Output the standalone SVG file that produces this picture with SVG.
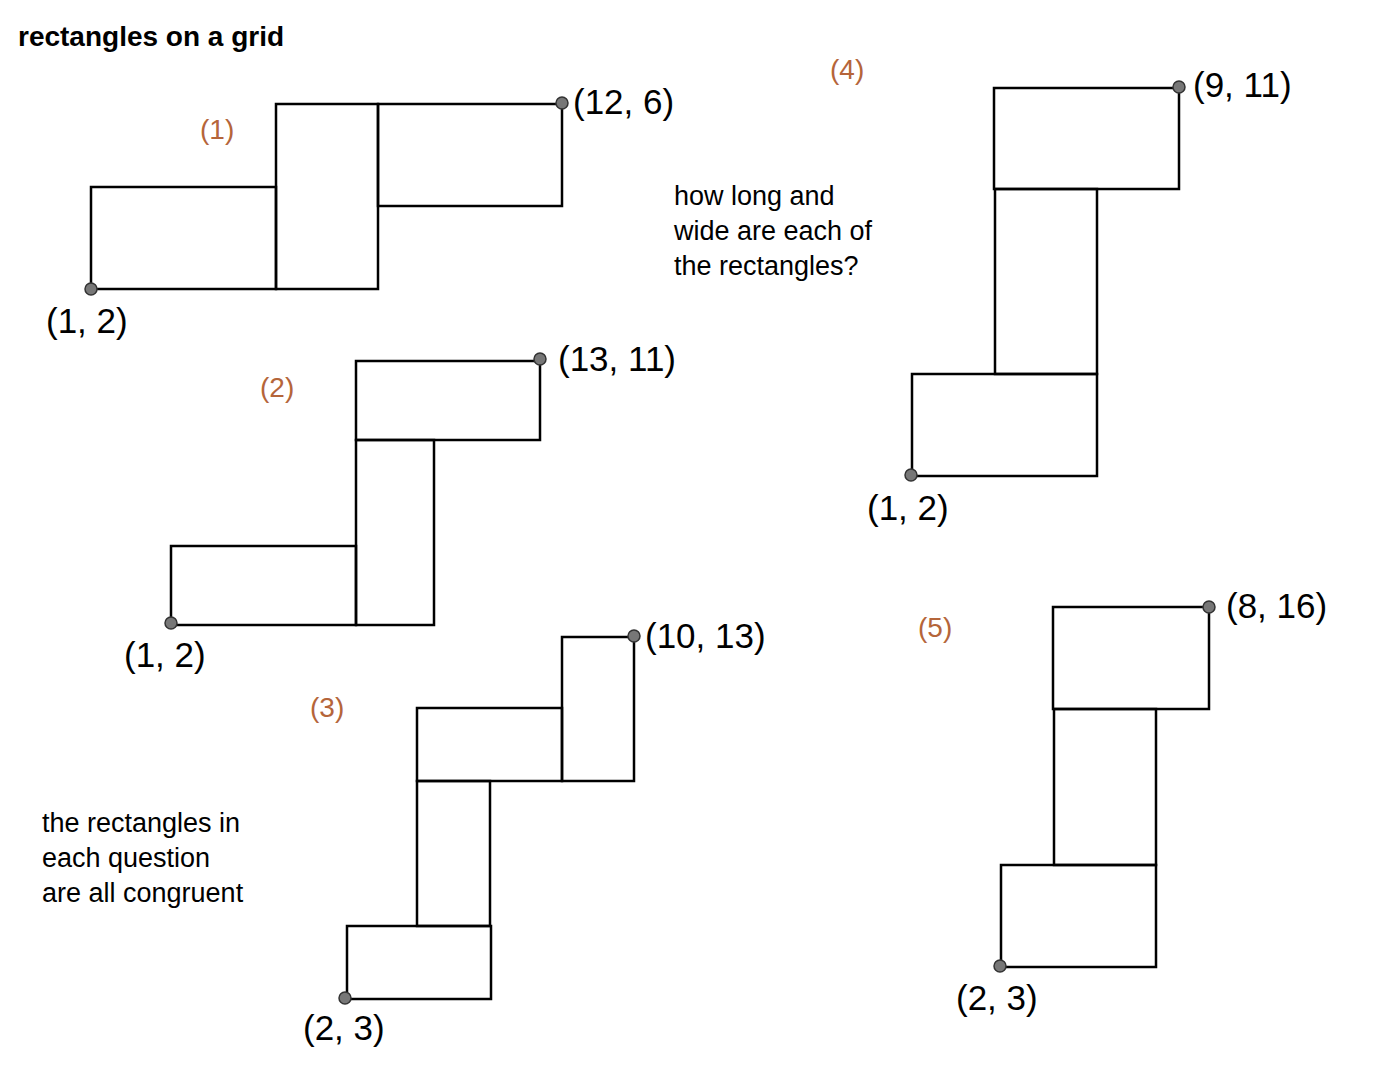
<svg xmlns="http://www.w3.org/2000/svg" width="1385" height="1067" viewBox="0 0 1385 1067">
<style>
.r{fill:none;stroke:#000;stroke-width:2.5}
.d{fill:#777;stroke:#333;stroke-width:1.5}
.c{font-family:"Liberation Sans",Arial,sans-serif;font-size:35px;fill:#000}
.n{font-family:"Liberation Sans",Arial,sans-serif;font-size:28px;fill:#b5653a}
.t{font-family:"Liberation Sans",Arial,sans-serif;font-size:27px;fill:#000}
</style>
<rect width="1385" height="1067" fill="#fff"/>
<text x="18" y="46" style="font-family:'Liberation Sans',Arial,sans-serif;font-size:28px;font-weight:bold">rectangles  on a grid</text>
<g id="fig1">
<rect class="r" x="91" y="187" width="185" height="102"/>
<rect class="r" x="276" y="104" width="102" height="185"/>
<rect class="r" x="378" y="104" width="184" height="102"/>
<circle class="d" cx="91" cy="289" r="6"/><circle class="d" cx="562" cy="103" r="6"/>
<text class="c" x="46" y="333">(1, 2)</text><text class="c" x="573" y="114">(12, 6)</text>
<text class="n" x="200" y="139">(1)</text>
</g>
<g id="fig2">
<rect class="r" x="356" y="361" width="184" height="79"/>
<rect class="r" x="356" y="440" width="78" height="185"/>
<rect class="r" x="171" y="546" width="185" height="79"/>
<circle class="d" cx="171" cy="623" r="6"/><circle class="d" cx="540" cy="359" r="6"/>
<text class="c" x="124" y="667">(1, 2)</text><text class="c" x="558" y="371">(13, 11)</text>
<text class="n" x="260" y="397">(2)</text>
</g>
<g id="fig3">
<rect class="r" x="562" y="637" width="72" height="144"/>
<rect class="r" x="417" y="708" width="145" height="73"/>
<rect class="r" x="417" y="781" width="73" height="145"/>
<rect class="r" x="347" y="926" width="144" height="73"/>
<circle class="d" cx="345" cy="998" r="6"/><circle class="d" cx="634" cy="636" r="6"/>
<text class="c" x="303" y="1040">(2, 3)</text><text class="c" x="645" y="648">(10, 13)</text>
<text class="n" x="310" y="717">(3)</text>
</g>
<g id="fig4">
<rect class="r" x="994" y="88" width="185" height="101"/>
<rect class="r" x="995" y="189" width="102" height="185"/>
<rect class="r" x="912" y="374" width="185" height="102"/>
<circle class="d" cx="911" cy="475" r="6"/><circle class="d" cx="1179" cy="87" r="6"/>
<text class="c" x="867" y="520">(1, 2)</text><text class="c" x="1193" y="97">(9, 11)</text>
<text class="n" x="830" y="79">(4)</text>
</g>
<g id="fig5">
<rect class="r" x="1053" y="607" width="156" height="102"/>
<rect class="r" x="1054" y="709" width="102" height="156"/>
<rect class="r" x="1001" y="865" width="155" height="102"/>
<circle class="d" cx="1000" cy="966" r="6"/><circle class="d" cx="1209" cy="607" r="6"/>
<text class="c" x="956" y="1010">(2, 3)</text><text class="c" x="1226" y="618">(8, 16)</text>
<text class="n" x="918" y="637">(5)</text>
</g>
<g id="notes">
<text class="t" x="674" y="205">how long and</text>
<text class="t" x="674" y="240">wide are each of</text>
<text class="t" x="674" y="275">the rectangles?</text>
<text class="t" x="42" y="832">the rectangles in</text>
<text class="t" x="42" y="867">each question</text>
<text class="t" x="42" y="902">are all congruent</text>
</g>
</svg>
